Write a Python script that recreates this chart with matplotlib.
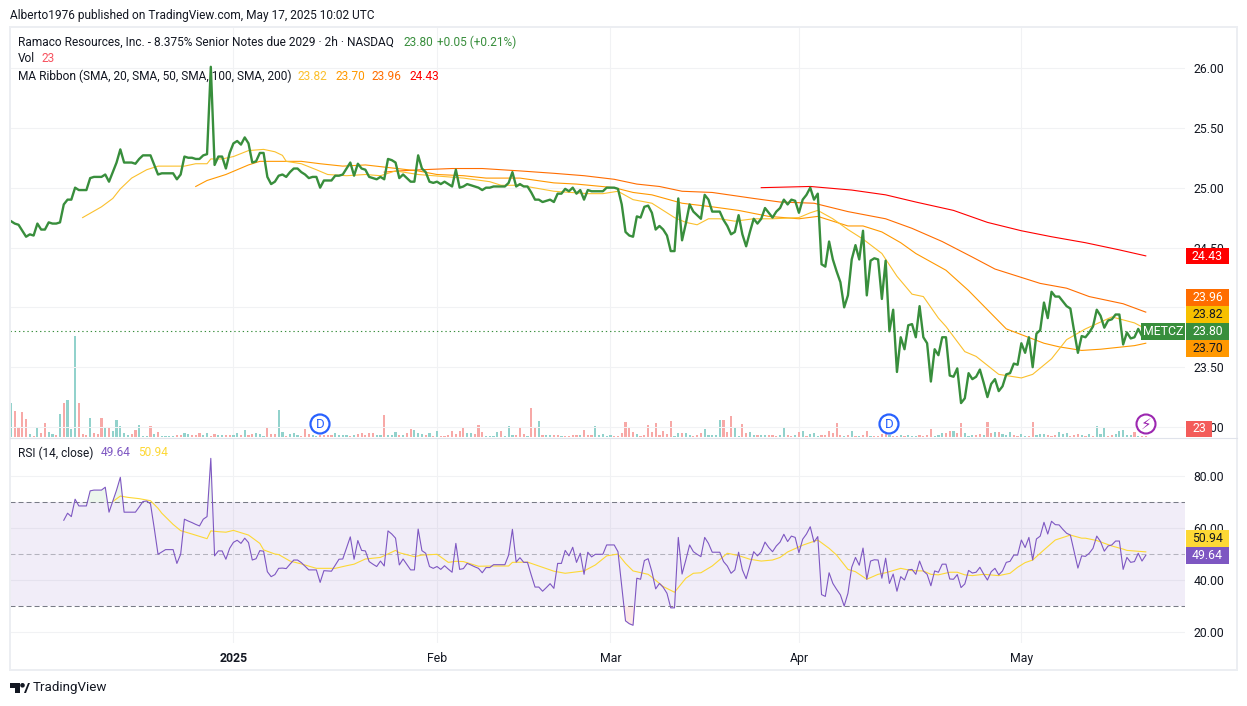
import numpy as np
import matplotlib
matplotlib.use("Agg")
import matplotlib.pyplot as plt
from matplotlib.patches import Rectangle, Polygon, Circle

plt.rcParams['font.family'] = ['Roboto', 'DejaVu Sans']

W, H = 1247, 706

close = [
 24.72,24.70,24.69,24.64,24.59,24.61,24.60,24.70,24.65,24.65,
 24.71,24.70,24.70,24.71,24.86,24.90,24.90,25.00,24.98,24.98,
 24.98,25.08,25.09,25.09,25.09,25.11,25.05,25.13,25.21,25.32,
 25.21,25.21,25.21,25.20,25.24,25.27,25.27,25.27,25.19,25.11,
 25.12,25.12,25.12,25.12,25.07,25.11,25.26,25.25,25.25,25.24,
 25.24,25.27,25.28,26.01,25.19,25.26,25.26,25.16,25.29,25.37,
 25.39,25.36,25.42,25.37,25.21,25.22,25.29,25.29,25.09,25.03,
 25.05,25.10,25.11,25.09,25.13,25.16,25.16,25.13,25.11,25.08,
 25.09,25.09,25.00,25.06,25.06,25.06,25.10,25.10,25.11,25.16,
 25.21,25.10,25.20,25.16,25.15,25.09,25.08,25.07,25.09,25.07,
 25.24,25.23,25.21,25.08,25.11,25.08,25.05,25.05,25.27,25.16,
 25.13,25.05,25.04,25.05,25.03,25.05,25.03,25.01,25.15,25.00,
 25.01,25.03,25.02,25.01,25.00,24.98,25.00,25.00,25.01,25.01,
 25.01,25.01,25.04,25.13,25.01,25.03,25.01,25.01,24.96,24.90,
 24.90,24.88,24.89,24.90,24.88,24.95,24.95,24.99,24.97,25.00,
 24.95,24.98,24.90,24.98,24.97,24.97,24.97,24.97,25.00,25.00,
 25.00,24.99,24.86,24.63,24.60,24.59,24.76,24.75,24.84,24.85,
 24.79,24.65,24.68,24.65,24.60,24.47,24.47,24.91,24.56,24.70,
 24.86,24.80,24.77,24.74,24.94,24.90,24.80,24.80,24.80,24.73,
 24.68,24.61,24.63,24.77,24.61,24.51,24.63,24.74,24.70,24.74,
 24.83,24.79,24.75,24.80,24.83,24.90,24.86,24.90,24.89,24.79,
 24.90,24.94,25.00,24.90,24.95,24.36,24.34,24.55,24.40,24.30,
 24.21,24.00,24.10,24.40,24.52,24.40,24.64,24.10,24.39,24.41,
 24.40,24.07,24.39,23.80,23.98,23.46,23.75,23.65,23.85,23.86,
 23.75,24.01,23.75,23.70,23.38,23.65,23.60,23.75,23.75,23.43,
 23.42,23.49,23.20,23.24,23.45,23.40,23.42,23.48,23.37,23.25,
 23.36,23.40,23.30,23.34,23.44,23.45,23.53,23.52,23.70,23.62,
 23.75,23.50,23.78,23.81,24.04,23.91,24.13,24.09,24.09,24.05,
 24.01,23.99,23.80,23.62,23.76,23.75,23.79,23.84,23.98,23.93,
 23.83,23.89,23.90,23.94,23.94,23.69,23.79,23.74,23.75,23.82,
 23.76,23.80]

sma20_bar = [19,24,27,29,32,36,39,42,46,49,52,53,56,59,63,67,70,72,73,77,81,84,89,94,98,102,108,
             120,127,130,135,144,153,157,161,165,170,173,176,179,182,185,188,192,197,202,209,212,214,
             218,222,226,231,235,239,242,246,248,253,256,262,268,271,276,280,285,292,298,301]
sma20 = [24.75,24.84,24.91,24.99,25.08,25.15,25.18,25.18,25.18,25.20,25.20,25.24,25.24,25.26,25.31,25.32,25.30,25.27,25.22,25.20,25.15,25.11,25.10,25.11,25.10,25.14,25.11,
         25.08,25.05,25.02,25.02,24.97,24.95,24.95,24.97,24.90,24.87,24.81,24.75,24.71,24.69,24.74,24.74,24.72,24.74,24.74,24.75,24.79,24.81,
         24.74,24.65,24.57,24.45,24.26,24.11,24.09,23.91,23.84,23.63,23.59,23.44,23.41,23.44,23.57,23.73,23.82,23.92,23.87,23.82]

sma50_bar = [49,52,57,63,66,72,77,82,88,94,108,113,120,126,135,144,150,160,165,170,178,186,193,201,209,214,218,222,226,231,236,240,248,254,259,264,269,274,278,284,289,292,298,301]
sma50 = [25.01,25.06,25.11,25.19,25.22,25.22,25.22,25.20,25.18,25.19,25.14,25.11,25.10,25.08,25.08,25.04,25.03,25.00,24.96,24.94,24.87,24.84,24.81,24.76,24.74,24.76,24.72,24.68,24.68,24.63,24.54,24.45,24.31,24.14,23.98,23.82,23.76,23.70,23.67,23.64,23.65,23.66,23.68,23.70]

sma100_bar = [99,103,109,117,125,135,144,152,160,166,172,178,186,197,204,213,222,232,239,247,255,261,268,273,280,286,295,301]
sma100 = [25.13,25.14,25.15,25.16,25.16,25.14,25.12,25.10,25.07,25.03,25.01,24.97,24.96,24.91,24.88,24.87,24.80,24.74,24.66,24.55,24.42,24.32,24.25,24.20,24.16,24.09,24.03,23.96]

sma200_bar = [199,212,223,232,240,250,259,268,276,285,294,301]
sma200 = [25.00,25.01,24.98,24.94,24.88,24.81,24.71,24.64,24.59,24.54,24.48,24.43]

volume = [
 850,650,250,625,450,75,25,225,100,350,
 125,75,50,575,850,925,200,2525,850,75,
 50,475,100,75,475,250,250,150,425,275,
 100,50,75,175,300,25,25,275,75,125,
 25,25,25,25,50,50,100,75,50,50,
 100,50,100,25,75,50,50,50,50,50,
 100,50,175,50,75,100,75,25,225,75,
 75,675,125,25,75,100,50,25,200,75,
 50,25,50,50,50,50,100,50,50,50,
 25,50,75,100,50,100,100,50,50,550,
 50,50,125,50,50,100,200,175,100,
 75,50,100,25,150,25,25,50,150,75,
 150,250,100,100,75,300,125,25,25,25,
 125,150,25,275,50,50,225,75,25,725,
 225,400,50,50,50,50,50,25,25,25,
 50,50,50,175,50,50,275,50,75,25,
 50,25,25,100,375,225,125,75,25,50,
 300,125,350,50,150,75,400,25,100,100,
 100,50,25,50,100,200,50,50,50,425,
 425,125,525,225,25,325,100,125,50,50,
 50,50,50,50,25,50,225,50,25,50,
 125,150,25,75,100,25,50,50,150,100,
 350,
 50,25,50,150,25,25,50,150,25,25,
 25,75,150,50,25,25,50,25,50,25,
 25,50,25,50,200,25,50,100,100,150,
 150,100,350,100,25,50,50,75,50,375,
 100,125,125,75,50,125,50,25,75,25,
 25,375,50,75,75,50,25,50,125,75,
 100,25,50,75,50,25,75,25,275,75,
 225,25,50,75,150,175,50,50,125,25,
 25,23]

vol_up = list(
 "grrrrgrgrr" "ggrgrgggrr" "rgrrrgrggg" "ggrrgggrgr" "ggggrrggrr"
 "rggrrggrrg" "grgrrgggrr" "rggrgggrrr" "ggrrrrgggg" "rgrrrrrggr" "gggrgrrgg"
 "grgrgrrrrr" "rrggrrrggg" "grgggrrrgr" "rgrggrrgrr" "rrgrrrgggg"
 "grrrrrrgrr" "rrrrrrrggr" "ggrrrggggg" "rrrggrrggr" "ggrrrggrrg" "rgrgggrrrr" "r"
 "rgrgrgrrgr" "rrrgrrgrgg" "grrrrgggrr" "grrgggrrgr" "rgrgggrrgg"
 "rrgggrrrgg" "grrrgrgrgg" "grrgggggrg" "rr")

rsi = [
 63.1,65.8,64.5,71.2,68.6,68.6,68.6,74.4,74.7,74.7,
 74.7,75.8,66.2,70.4,74.7,79.6,66.2,66.2,66.2,66.2,
 68.2,70.3,70.5,69.4,60.0,50.0,50.9,51.8,51.8,51.8,
 46.5,50.0,63.5,62.8,62.2,61.5,60.9,63.5,64.5,86.9,
 49.4,51.3,51.3,48.1,52.3,54.6,55.4,54.2,56.2,54.5,
 47.8,48.3,51.4,51.2,43.3,41.4,42.2,44.6,44.7,44.5,
 46.2,47.8,47.8,46.8,45.4,44.0,44.0,44.0,39.2,43.7,
 43.6,43.5,45.8,48.1,48.2,52.5,56.7,48.1,55.3,51.5,
 51.3,47.2,46.2,45.3,47.4,45.5,59.0,57.8,56.2,45.9,
 48.2,46.1,44.0,44.0,59.7,51.4,50.4,45.3,44.6,45.3,
 44.2,45.6,44.3,43.1,54.2,44.2,44.5,46.5,45.9,45.2,
 44.6,42.9,44.9,44.9,46.0,46.0,46.0,46.0,49.7,59.6,
 47.0,48.7,46.9,46.9,42.0,37.4,37.4,35.8,37.2,38.7,
 36.9,46.5,46.5,51.5,49.4,52.7,46.9,50.4,42.3,50.8,
 49.0,50.0,50.0,50.0,53.6,53.6,53.6,51.0,37.6,24.4,
 23.3,22.7,40.8,40.4,47.6,48.3,43.3,36.7,38.8,37.3,
 35.0,29.4,29.4,56.5,42.4,47.8,53.6,51.0,50.0,49.1,
 56.5,54.2,50.8,50.8,50.8,47.2,45.5,42.7,44.0,50.8,
 44.0,40.6,45.8,51.0,49.4,51.0,54.7,52.6,51.0,53.2,
 54.7,57.7,54.9,57.0,56.5,50.6,55.8,57.8,60.6,54.7,
 56.8,34.5,33.8,42.9,38.8,36.5,34.4,30.1,35.0,45.0,
 48.8,45.8,52.4,40.4,47.4,47.9,47.8,40.8,48.5,38.8,
 42.4,35.8,41.4,40.1,44.0,44.2,42.3,47.4,43.6,42.3,
 37.9,43.6,43.1,46.2,46.2,40.5,40.4,42.2,37.2,38.6,
 43.8,42.8,43.1,45.0,42.4,40.1,43.3,44.6,42.1,43.6,
 46.9,47.3,49.7,49.7,55.5,52.6,56.5,47.8,55.9,57.0,
 62.3,57.8,62.7,61.4,61.3,59.6,58.1,57.4,51.0,44.7,
 49.4,49.2,50.4,52.3,57.0,54.9,51.2,53.2,53.6,55.1,
 55.1,44.2,48.8,46.9,47.2,50.4,47.4,49.64]

rsi_ma_bar = [27,29,31,34,37,39,40,43,45,48,52,53,55,57,59,63,66,67,70,71,74,77,81,86,89,91,94,98,102,103,107,
              109,113,116,118,120,124,128,132,133,137,140,144,147,152,155,158,161,163,165,169,170,173,176,179,181,183,186,190,193,196,199,202,204,206,210,214,217,219,
              222,224,227,230,232,236,239,242,244,246,249,251,253,255,258,262,265,267,269,271,274,277,281,284,285,288,292,295,296,301]
rsi_ma = [70.3,72.4,71.9,71.4,70.6,67.7,65.8,61.5,59.1,57.8,56.0,59.0,58.7,58.5,59.2,57.4,54.2,51.7,50.1,49.9,47.4,46.3,44.6,44.6,45.6,46.2,48.2,48.8,51.5,50.6,49.1,
          49.7,50.0,46.9,47.3,47.2,45.4,45.5,45.5,46.9,47.0,45.5,43.5,42.7,43.6,45.9,49.4,50.1,46.5,43.6,42.3,41.2,37.6,35.4,40.8,42.7,42.9,45.5,50.4,49.5,48.1,47.4,47.8,48.8,50.9,53.5,55.5,52.3,49.7,
          44.2,43.3,40.4,42.3,42.9,44.6,43.7,43.6,42.3,42.1,43.1,43.1,42.1,41.8,42.3,41.8,42.7,45.0,46.8,47.8,51.7,55.5,57.4,56.2,56.2,55.3,53.2,52.0,51.5,50.94]

month_bars = [59,113,159,209,268]
month_labels = ["2025","Feb","Mar","Apr","May"]
price_ticks = [26.0,25.5,25.0,24.5,24.0,23.5,23.0]
price_tick_labels = ["26.00","25.50","25.00","24.50","","23.50","23.00"]
rsi_ticks = [80,60,40,20]

# palette
C_LINE = "#388e3c"; C_20="#fbc02d"; C_50="#ff9800"; C_100="#ff6d00"; C_200="#ff0000"
C_UP="#92d2cc"; C_DN="#f7a9a7"; C_GRID="#f1f2f4"; C_BORDER="#eceef2"; C_RSI="#7e57c2"; C_MA="#fdd835"
LW_MA = 0.8
LW_GRID = 0.75
FS = 8.55
FS_AXIS = 8.8

PXW = 1/W; PXH = 1/H
fig = plt.figure(figsize=(W/100, H/100), dpi=100, facecolor="white")

def pane(y_top, y_bot):
    return fig.add_axes([10*PXW, 1-y_bot*PXH, 1175*PXW, (y_bot-y_top)*PXH])

xlim = ((10-11)/3.77, (1185-11)/3.77)

# price pane
ax_vol = pane(27, 437)
ax = ax_vol.twinx()
bars = np.arange(len(volume))
ax_vol.bar(bars, volume, width=0.58,
           color=[C_UP if d == "g" else C_DN for d in vol_up], zorder=3)
ax_vol.set_ylim(0, 410*25)
ax_vol.set_xlim(*xlim)
ax_vol.set_yticks([])
ax_vol.set_xticks(month_bars)
ax_vol.tick_params(axis="x", length=0, labelbottom=False)
ax_vol.grid(axis="x", color=C_GRID, lw=LW_GRID)
ax_vol.set_axisbelow(True)

ax.set_xlim(*xlim)
ax.set_ylim(26-(437-68)/119.67, 26+41/119.67)
ax.set_yticks(price_ticks)
ax.set_yticklabels(price_tick_labels, fontsize=FS_AXIS, color="#131722")
ax.yaxis.tick_right()
ax.tick_params(axis="y", length=0, pad=6.2)
ax.grid(axis="y", color=C_GRID, lw=LW_GRID, zorder=0)
ax.set_axisbelow(True)
ax.patch.set_alpha(0)

ax.axhline(close[-1], xmax=(1141-10)/1175, color=C_LINE, lw=0.8, ls=(0, (1.2, 2.6)), zorder=2)
ax.plot(sma200_bar, sma200, color=C_200, lw=LW_MA, zorder=3)
ax.plot(sma100_bar, sma100, color=C_100, lw=LW_MA, zorder=3)
ax.plot(sma50_bar, sma50, color=C_50, lw=LW_MA, zorder=3)
ax.plot(sma20_bar, sma20, color=C_20, lw=LW_MA, zorder=3)
ax.plot(bars, close, color=C_LINE, lw=1.7, zorder=4, solid_joinstyle="round")
for s in ax.spines.values(): s.set_visible(False)
for s in ax_vol.spines.values(): s.set_visible(False)

# RSI pane
rx = pane(438, 643)
rb = np.arange(14, 14+len(rsi))
rv = np.array(rsi)
rx.set_xlim(*xlim)
rx.set_ylim(50-(643-554.3)/2.6, 50-(438-554.3)/2.6)
rx.axhspan(30, 70, color=C_RSI, alpha=0.10, lw=0, zorder=1)
DASH = (0, (4.8, 2.9))
rx.axhline(70, color="#787b86", lw=0.75, ls=DASH, zorder=2)
rx.axhline(30, color="#787b86", lw=0.75, ls=DASH, zorder=2)
rx.axhline(50, color="#787b86", lw=0.75, ls=DASH, alpha=0.5, zorder=2)
rx.fill_between(rb, 70, rv, where=rv >= 70, interpolate=True, color="#4caf50", alpha=0.10, lw=0, zorder=2)
rx.fill_between(rb, 30, rv, where=rv <= 30, interpolate=True, color="#f44336", alpha=0.12, lw=0, zorder=2)
rx.plot(rsi_ma_bar, rsi_ma, color=C_MA, lw=LW_MA, zorder=3)
rx.plot(rb, rv, color=C_RSI, lw=LW_MA, zorder=4)
rx.set_yticks(rsi_ticks)
rx.set_yticklabels([f"{t:.2f}" for t in rsi_ticks], fontsize=FS_AXIS, color="#131722")
rx.yaxis.tick_right()
rx.tick_params(axis="y", length=0, pad=6.2)
rx.set_xticks(month_bars)
rx.set_xticklabels(month_labels, fontsize=FS_AXIS, color="#131722")
rx.get_xticklabels()[0].set_fontweight("bold")
rx.tick_params(axis="x", length=0, pad=6.5)
rx.grid(axis="both", color=C_GRID, lw=LW_GRID, zorder=0)
rx.set_axisbelow(True)
for s in rx.spines.values(): s.set_visible(False)

# overlay in picture pixels: frame, header, labels and badges only
ov = fig.add_axes([0, 0, 1, 1], zorder=10)
ov.set_xlim(0, W); ov.set_ylim(H, 0); ov.axis("off"); ov.patch.set_alpha(0)
ov.add_patch(Rectangle((10, 27), 1227, 643, fill=False, ec=C_BORDER, lw=1.4))
ov.plot([10, 1237], [437.5, 437.5], color="#e0e3eb", lw=0.8)

TXT = "#131722"
def label(x, y, s, color=TXT, size=FS, **kw):
    ov.text(x, y, s, color=color, fontsize=size, va="center", ha="left", **kw)

label(10, 15, "Alberto1976 published on TradingView.com, May 17, 2025 10:02 UTC")
label(18, 42, "Ramaco Resources, Inc. - 8.375% Senior Notes due 2029 · 2h · NASDAQ")
label(403, 42, "23.80", C_LINE)
label(437, 42, "+0.05 (+0.21%)", C_LINE)
label(18, 59, "Vol")
label(41, 59, "23", "#f7525f")
label(18, 76, "MA Ribbon (SMA, 20, SMA, 50, SMA, 100, SMA, 200)")
for x, s, c in [(298, "23.82", "#fbc02d"), (335, "23.70", C_50), (372, "23.96", C_100), (409, "24.43", C_200)]:
    label(x, 76, s, c)
label(18, 453, "RSI (14, close)")
label(101, 453, "49.64", C_RSI)
label(138, 453, "50.94", C_MA)

def box(x0, y0, x1, y1, fc, s, tc="white"):
    ov.add_patch(Rectangle((x0, y0), x1-x0, y1-y0, fc=fc, ec="none"))
    ov.text((x0+x1)/2, (y0+y1)/2, s, color=tc, fontsize=FS_AXIS, ha="center", va="center")

box(1186, 248, 1229, 264, "#ff0000", "24.43")
box(1186, 289, 1229, 306, "#ff6d00", "23.96")
box(1186, 306, 1229, 323, "#f7c000", "23.82", TXT)
box(1186, 323, 1229, 340, C_LINE, "23.80")
box(1141, 323, 1185, 340, C_LINE, "METCZ")
box(1186, 340, 1229, 357, "#ff9800", "23.70", TXT)
box(1186, 421, 1212, 437, "#f35c5a", "23")
box(1186, 530, 1229, 547, C_MA, "50.94", TXT)
box(1186, 547, 1229, 564, C_RSI, "49.64")

for cx in (320, 889):
    ov.add_patch(Circle((cx, 424), 9.5, fc="white", ec="#2962ff", lw=1.6))
    ov.text(cx, 424, "D", color="#2962ff", fontsize=9.5, ha="center", va="center")
ov.add_patch(Circle((1146, 424), 9.5, fc="white", ec="#9c27b0", lw=1.5))
ov.text(1146, 424, "\u26a1", color="#9c27b0", fontsize=11, ha="center", va="center", family="DejaVu Sans")

# TradingView mark and name
ov.add_patch(Polygon([(10, 683), (20, 683), (20, 693), (15, 693), (15, 688), (10, 688)], fc="#131722", ec="none"))
ov.add_patch(Circle((22.5, 685.3), 2.3, fc="#131722", ec="none"))
ov.add_patch(Polygon([(24, 693), (28, 683), (30, 683), (29.5, 684), (26, 693)], fc="#131722", ec="none"))
label(33, 688, "TradingView", size=9.6)

fig.savefig("out.png", dpi=100, facecolor="white")
